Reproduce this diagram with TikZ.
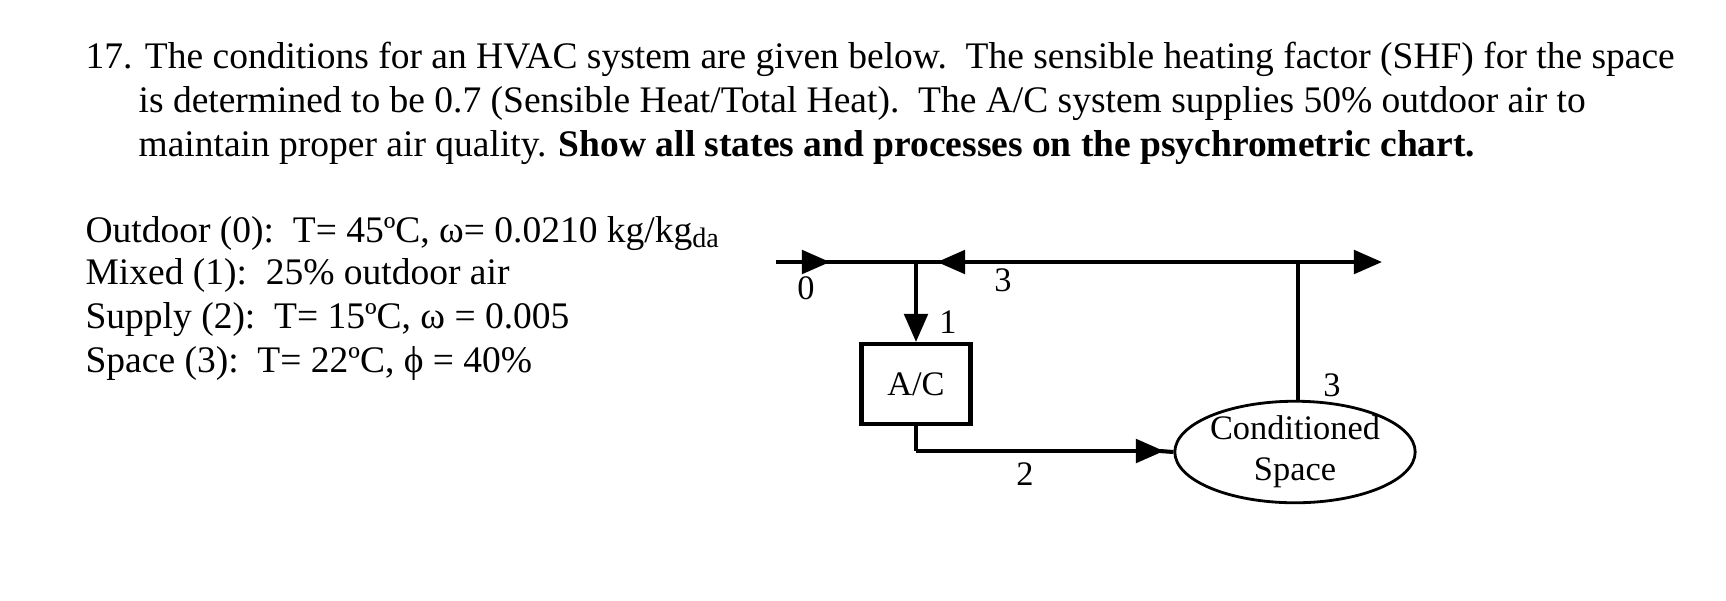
\documentclass[tikz,border=0pt]{standalone}
\usepackage{fontspec}
\setmainfont{Liberation Serif}
\usetikzlibrary{arrows.meta, shapes.geometric, positioning}

\tikzset{
  txt/.style={anchor=base west, inner sep=0pt, font=\fontsize{12}{14}\selectfont},
  lbl/.style={inner sep=0pt, font=\fontsize{11}{13}\selectfont},
  pipe/.style={line width=1.3pt},
  flow/.style={line width=1.3pt, -{Triangle[length=9pt,width=7.5pt]}}
}

\begin{document}
\begin{tikzpicture}[x=0.32pt, y=-0.32pt]
            \useasboundingbox (0,0) rectangle (1726,600);

            \node [txt] (t1) at (85,68) {17. The conditions for an HVAC system are given below.\ \ The sensible heating factor (SHF) for the space};
            \node [txt] (t2) at (138,112) {is determined to be 0.7 (Sensible Heat/Total Heat).\ \ The A/C system supplies 50\% outdoor air to};
            \node [txt] (t3) at (138,156) {maintain proper air quality. \textbf{Show all states and processes on the psychrometric chart.}};

            \node [txt] (c0) at (85,242) {Outdoor (0):\ \ T= 45ºC, ω= 0.0210 kg/kg\raisebox{-0.3ex}{\fontsize{9}{9}\selectfont da}};
            \node [txt] (c1) at (85,284) {Mixed (1):\ \ 25\% outdoor air};
            \node [txt] (c2) at (85,328) {Supply (2):\ \ T= 15ºC, ω = 0.005};
            \node [txt] (c3) at (85,372) {Space (3):\ \ T= 22ºC, ϕ = 40\%};

            \node [draw, pipe, minimum width=109*0.32pt, minimum height=80*0.32pt, lbl] (ac) at (916,384) {A/C};
            \node [draw, line width=0.9pt, ellipse, minimum width=219*0.32pt, minimum height=97*0.32pt, lbl, align=center] (space) at (1295,452) {Conditioned\\Space};

            \coordinate (in) at (776,262);
            \coordinate (a0) at (830,262);
            \coordinate (mix) at (916,262);
            \coordinate (a3) at (937,262);
            \coordinate (ret) at (1298,262);
            \coordinate (out) at (1382,262);
            \coordinate (sup) at (916,451);

            \draw [pipe] (in) -- (ret);
            \draw [flow] (in) -- (a0);
            \draw [flow] (mix -| ret) -- (a3);
            \draw [flow] (ret) -- (out);
            \draw [pipe] (ret) -- (ret |- space.north);
            \draw [flow] (mix) -- (ac.north);
            \draw [pipe] (ac.south) -- (sup);
            \draw [flow] (sup) -- (1164,451);
            \draw [pipe] (1160,451) -- (space.west);

            \node [lbl] (n0) at (806,288) {0};
            \node [lbl] (n3) at (1003,280) {3};
            \node [lbl] (n1) at (948,322) {1};
            \node [lbl] (n2) at (1025,474) {2};
            \node [lbl] (n3b) at (1332,385) {3};
        \end{tikzpicture}
\end{document}
